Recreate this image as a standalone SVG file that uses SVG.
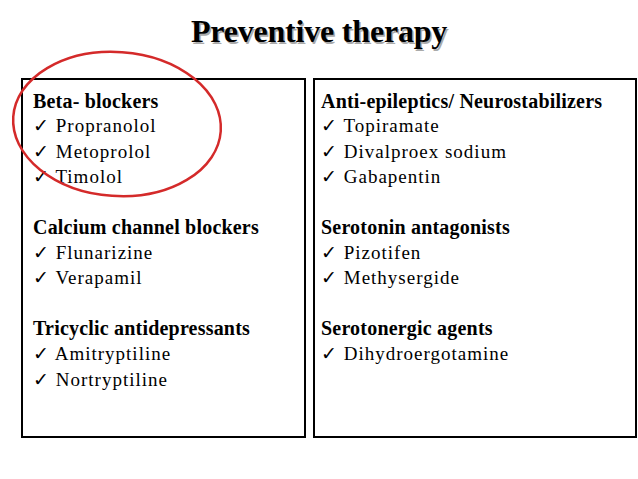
<svg xmlns="http://www.w3.org/2000/svg" width="638" height="479" viewBox="0 0 638 479">
<style>
.b{fill:none;stroke:#000;stroke-width:2}
.h{font-family:"Liberation Serif",serif;font-weight:bold;font-size:20px;letter-spacing:0.2px}
.i{font-family:"Liberation Serif",serif;font-size:19px;letter-spacing:1px}
.t{font-family:"Liberation Serif",serif;font-weight:bold;font-size:32px;letter-spacing:-0.2px}
</style>
<rect width="638" height="479" fill="#fff"/>
<text class="t" x="319" y="42" text-anchor="middle" fill="#aaa" transform="translate(1.5,1.5)">Preventive therapy</text>
<text class="t" x="319" y="42" text-anchor="middle">Preventive therapy</text>
<g id="left">
<rect class="b" x="22" y="79" width="283" height="358"/>
<text class="h" x="33" y="108">Beta- blockers</text>
<text class="i" x="33" y="132">✓ Propranolol</text>
<text class="i" x="33" y="158">✓ Metoprolol</text>
<text class="i" x="33" y="183">✓ Timolol</text>
<text class="h" x="33" y="234">Calcium channel blockers</text>
<text class="i" x="33" y="259">✓ Flunarizine</text>
<text class="i" x="33" y="284">✓ Verapamil</text>
<text class="h" x="33" y="335">Tricyclic antidepressants</text>
<text class="i" x="33" y="360">✓ Amitryptiline</text>
<text class="i" x="33" y="386">✓ Nortryptiline</text>
</g>
<g id="right">
<rect class="b" x="314" y="79" width="322" height="358"/>
<text class="h" x="321" y="108">Anti-epileptics/ Neurostabilizers</text>
<text class="i" x="321" y="132">✓ Topiramate</text>
<text class="i" x="321" y="158">✓ Divalproex sodium</text>
<text class="i" x="321" y="183">✓ Gabapentin</text>
<text class="h" x="321" y="234">Serotonin antagonists</text>
<text class="i" x="321" y="259">✓ Pizotifen</text>
<text class="i" x="321" y="284">✓ Methysergide</text>
<text class="h" x="321" y="335">Serotonergic agents</text>
<text class="i" x="321" y="360">✓ Dihydroergotamine</text>
</g>
<ellipse id="circle" cx="117" cy="124" rx="104" ry="72" fill="none" stroke="#d42a2a" stroke-width="2.5" transform="rotate(4 117 124)"/>
</svg>
